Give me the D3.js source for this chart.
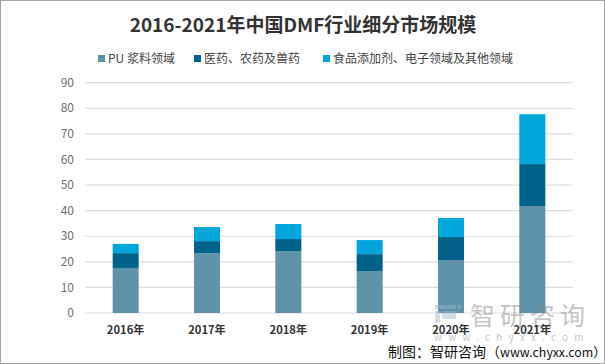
<!DOCTYPE html>
<html>
<head>
<meta charset="utf-8">
<script src="https://cdn.jsdelivr.net/npm/d3@7"></script>
<style>
  html, body { margin: 0; padding: 0; background: #fff; }
  svg { display: block; }
  text { font-family: "Noto Sans CJK SC", "Noto Sans", sans-serif; }
</style>
</head>
<body>
<div id="chart"></div>
<script>
const years = ['2016年', '2017年', '2018年', '2019年', '2020年', '2021年'];
const seriesNames = ['PU 浆料领域', '医药、农药及兽药', '食品添加剂、电子领域及其他领域'];
const puValues = [17.6, 23.4, 24.2, 16.4, 20.7, 41.8];
const pharmaValues = [5.8, 4.7, 4.7, 6.6, 9.0, 16.4];
const otherValues = [3.6, 5.5, 5.9, 5.5, 7.4, 19.5];
const yTicks = [0, 10, 20, 30, 40, 50, 60, 70, 80, 90];
const colors = ['#5f93aa', '#00648a', '#00a6dc'];

const width = 605;
const height = 364;
const margin = { top: 82.7, right: 32, bottom: 51, left: 85 };

const svg = d3.select('#chart').append('svg')
  .attr('width', width)
  .attr('height', height);

svg.append('rect')
  .attr('x', 0.5).attr('y', 0.5)
  .attr('width', width - 1).attr('height', height - 1)
  .attr('fill', '#fff')
  .attr('stroke', '#a6a6a6');

const x = d3.scaleBand()
  .domain(years)
  .range([margin.left, width - margin.right])
  .paddingInner(0.68)
  .paddingOuter(0.34);

const y = d3.scaleLinear()
  .domain([0, 90])
  .range([height - margin.bottom, margin.top]);

// gridlines first, bars sit on top
svg.append('g').selectAll('line')
  .data(yTicks)
  .enter().append('line')
  .attr('x1', margin.left)
  .attr('x2', width - margin.right)
  .attr('y1', d => y(d))
  .attr('y2', d => y(d))
  .attr('stroke', '#dedede')
  .attr('stroke-width', 1.2);

const rows = years.map((year, i) => ({
  year,
  pu: puValues[i],
  pharma: pharmaValues[i],
  other: otherValues[i],
}));
const stacked = d3.stack().keys(['pu', 'pharma', 'other'])(rows);

svg.append('g').selectAll('g')
  .data(stacked)
  .enter().append('g')
  .attr('fill', (d, i) => colors[i])
  .selectAll('rect')
  .data(d => d)
  .enter().append('rect')
  .attr('x', d => x(d.data.year))
  .attr('width', x.bandwidth())
  .attr('y', d => y(d[1]))
  .attr('height', d => y(d[0]) - y(d[1]));

// axis labels
svg.append('g').selectAll('text')
  .data(yTicks)
  .enter().append('text')
  .attr('x', 74)
  .attr('y', d => y(d))
  .attr('dy', '.35em')
  .attr('text-anchor', 'end')
  .attr('font-size', 12)
  .attr('fill', '#6f6f6f')
  .text(d => d);

// watermark goes under the year labels
const mark = svg.append('g').attr('opacity', 0.45);

mark.append('path')
  .attr('d', 'M435 305h21v4h-21zM435 311h5v12h-5zM442 311h14v8h-14zM458 305h3v4h-3z')
  .attr('fill', '#9fb2d0');

mark.append('text')
  .attr('x', 470)
  .attr('y', 325)
  .attr('font-size', 25)
  .attr('letter-spacing', 5)
  .attr('fill', '#808080')
  .text('智研咨询');

mark.append('text')
  .attr('x', 434)
  .attr('y', 341)
  .attr('font-size', 10)
  .attr('letter-spacing', 6.2)
  .attr('fill', '#808080')
  .text('www.chyxx.com');

svg.append('g').selectAll('text')
  .data(years)
  .enter().append('text')
  .attr('x', d => x(d) + x.bandwidth() / 2)
  .attr('y', 334)
  .attr('text-anchor', 'middle')
  .attr('font-size', 11.2)
  .attr('font-weight', 700)
  .attr('fill', '#333')
  .text(d => d);

svg.append('text')
  .attr('x', 303)
  .attr('y', 32)
  .attr('text-anchor', 'middle')
  .attr('font-size', 19)
  .attr('font-weight', 700)
  .attr('fill', '#333')
  .text('2016-2021年中国DMF行业细分市场规模');

// legend
const legendX = [98, 194, 323];
const legend = svg.append('g').selectAll('g')
  .data(seriesNames)
  .enter().append('g')
  .attr('transform', (d, i) => `translate(${legendX[i]},59)`);

legend.append('rect')
  .attr('y', -4)
  .attr('width', 7)
  .attr('height', 7)
  .attr('fill', (d, i) => colors[i]);

legend.append('text')
  .attr('x', 10)
  .attr('y', 3)
  .attr('dy', '.1em')
  .attr('font-size', 12)
  .attr('fill', '#444')
  .text(d => d);

// source line: the url runs a bit smaller than the chinese around it
const source = svg.append('text')
  .attr('x', 388)
  .attr('y', 357)
  .attr('fill', '#111');
source.append('tspan').attr('font-size', 14).text('制图：智研咨询（');
source.append('tspan').attr('font-size', 12.4).text('www.chyxx.com');
source.append('tspan').attr('font-size', 13).text('）');
</script>
</body>
</html>
